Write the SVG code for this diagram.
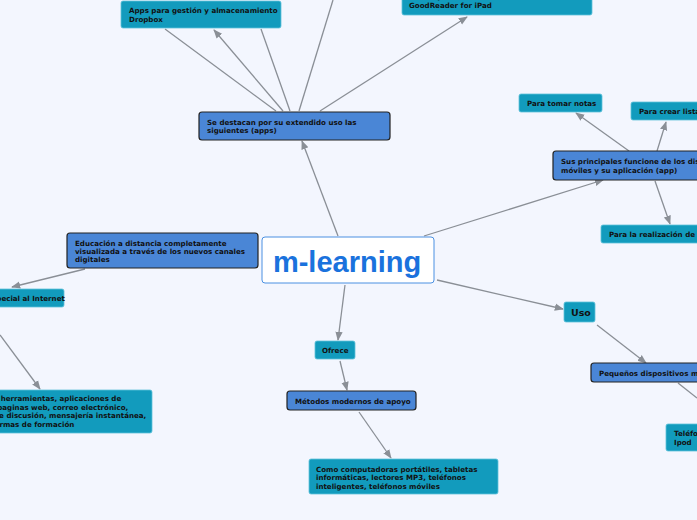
<svg xmlns="http://www.w3.org/2000/svg" width="697" height="520" viewBox="0 0 697 520">
<style>
.t{fill:#129bbd;stroke:#5fc3db;stroke-width:0.8}
.b{fill:#4a86d6;stroke:#222;stroke-width:1.2}
text{font-family:"DejaVu Sans",sans-serif;font-size:7.1px;font-weight:bold;fill:#111}
.c line{stroke:#8a8f96;stroke-width:1.3}
</style>
<defs><marker id="a" viewBox="0 0 10 10" refX="9" refY="5" markerWidth="7" markerHeight="7" orient="auto"><path d="M0,1L10,5L0,9z" fill="#8a8f96"/></marker></defs>
<rect width="697" height="520" fill="#f3f6fe"/>
<g class="c">
<line x1="338" y1="236" x2="302" y2="141" marker-end="url(#a)"/>
<line x1="276" y1="111" x2="165" y2="29"/>
<line x1="283" y1="111" x2="214" y2="30" marker-end="url(#a)"/>
<line x1="290" y1="111" x2="261" y2="29"/>
<line x1="299" y1="111" x2="333" y2="0"/>
<line x1="320" y1="111" x2="467" y2="17" marker-end="url(#a)"/>
<line x1="424" y1="236" x2="603" y2="180" marker-end="url(#a)"/>
<line x1="629" y1="151" x2="576" y2="113" marker-end="url(#a)"/>
<line x1="657" y1="151" x2="666" y2="122" marker-end="url(#a)"/>
<line x1="655" y1="181" x2="670" y2="224" marker-end="url(#a)"/>
<line x1="85" y1="269" x2="12" y2="287" marker-end="url(#a)"/>
<line x1="0" y1="335" x2="40" y2="389" marker-end="url(#a)"/>
<line x1="345" y1="285" x2="338" y2="340" marker-end="url(#a)"/>
<line x1="340" y1="361" x2="347" y2="390" marker-end="url(#a)"/>
<line x1="359" y1="412" x2="391" y2="458" marker-end="url(#a)"/>
<line x1="437" y1="280" x2="563" y2="309" marker-end="url(#a)"/>
<line x1="597" y1="325" x2="646" y2="363" marker-end="url(#a)"/>
<line x1="678" y1="383" x2="697" y2="398"/>
</g>
<g id="apps"><rect class="t" x="121" y="1" width="160" height="27" rx="2"/><text x="129" y="13">Apps para gestión y almacenamiento</text><text x="129" y="22">Dropbox</text></g>
<g id="goodreader"><rect class="t" x="402" y="-12" width="190" height="27" rx="2"/><text x="409" y="-1">Notas, presentaciones</text><text x="409" y="8">GoodReader for iPad</text></g>
<g id="destacan"><rect class="b" x="199" y="112" width="191" height="28" rx="3"/><text x="207" y="125">Se destacan por su extendido uso las</text><text x="207" y="133">siguientes (apps)</text></g>
<g id="notas"><rect class="t" x="519" y="94" width="83" height="18" rx="2"/><text x="527" y="106">Para tomar notas</text></g>
<g id="listas"><rect class="t" x="631" y="102" width="75" height="18" rx="2"/><text x="639" y="114">Para crear listas</text></g>
<g id="funciones"><rect class="b" x="553" y="151" width="155" height="29" rx="3"/><text x="561" y="164">Sus principales funcione de los dispositivos</text><text x="561" y="173">móviles y su aplicación (app)</text></g>
<g id="realizacion"><rect class="t" x="601" y="225" width="105" height="18" rx="2"/><text x="609" y="237">Para la realización de tareas</text></g>
<g id="center"><rect x="262" y="237" width="172" height="46" rx="3" fill="#fff" stroke="#4a90e2" stroke-width="1"/><text x="347" y="272" text-anchor="middle" style="font-family:'Liberation Sans',sans-serif;font-size:29px;fill:#1a72dd">m-learning</text></g>
<g id="educacion"><rect class="b" x="67" y="233" width="191" height="35" rx="3"/><text x="75" y="246">Educación a distancia completamente</text><text x="75" y="254">visualizada a través de los nuevos canales</text><text x="75" y="262">digitales</text></g>
<g id="internet"><rect class="t" x="-50" y="289" width="114" height="18" rx="2"/><text x="-43" y="301">Acceso especial al Internet</text></g>
<g id="herramientas"><rect class="t" x="-40" y="390" width="192" height="43" rx="2"/><text x="-29" y="401">Uso de herramientas, aplicaciones de</text><text x="-29" y="410">texto, paginas web, correo electrónico,</text><text x="-29" y="418">foros de discusión, mensajería instantánea,</text><text x="-29" y="427">plataformas de formación</text></g>
<g id="ofrece"><rect class="t" x="315" y="341" width="40" height="18" rx="2"/><text x="322" y="353">Ofrece</text></g>
<g id="metodos"><rect class="b" x="287" y="391" width="129" height="19" rx="3"/><text x="295" y="404">Métodos modernos de apoyo</text></g>
<g id="computadoras"><rect class="t" x="309" y="459" width="189" height="35" rx="2"/><text x="316" y="472">Como computadoras portátiles, tabletas</text><text x="316" y="480">informáticas, lectores MP3, teléfonos</text><text x="316" y="489">inteligentes, teléfonos móviles</text></g>
<g id="uso"><rect class="t" x="564" y="302" width="31" height="20" rx="2"/><text x="571" y="316" style="font-size:9.5px">Uso</text></g>
<g id="pequenos"><rect class="b" x="591" y="363" width="115" height="19" rx="3"/><text x="599" y="376">Pequeños dispositivos móviles</text></g>
<g id="telefonos"><rect class="t" x="666" y="424" width="45" height="27" rx="2"/><text x="674" y="436">Teléfonos</text><text x="674" y="445">Ipod</text></g>
</svg>
